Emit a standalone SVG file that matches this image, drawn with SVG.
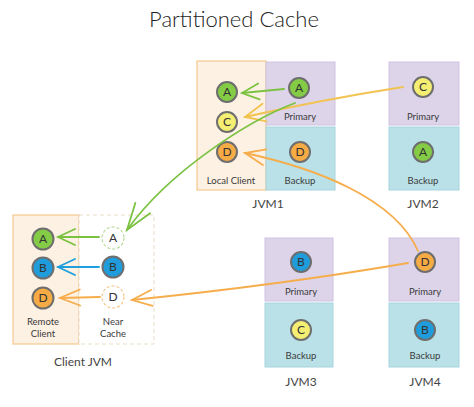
<svg xmlns="http://www.w3.org/2000/svg" width="474" height="407" viewBox="0 0 474 407">
<defs>
<style>
text{font-family:Lato,"Noto Sans","DejaVu Sans",sans-serif;fill:#3a3a3a;text-anchor:middle}
.title{font-size:22px;fill:#222;font-weight:300}
.lbl{font-size:9.5px}
.jvm{font-size:12px;fill:#444}
.let{font-size:12px;fill:#333}
.pri{fill:#ddd4ea;stroke:#cfc3e0;stroke-width:1}
.bak{fill:#bae1e7;stroke:#a6d5dd;stroke-width:1}
.loc{fill:#fdf1e3;stroke:#f6c88e;stroke-width:1.2}
.near{fill:#fff;stroke:#e9dcc6;stroke-width:1;stroke-dasharray:4 3}
.c{stroke:#6e6e6e;stroke-width:2}
.cg{fill:#84cc45}.cy{fill:#f4ef72}.co{fill:#f6ab45}.cb{fill:#1e9cdb}
.dash{fill:#fff;stroke-width:1.2;stroke-dasharray:3 2}
.ln{fill:none;stroke-width:1.8;stroke-linecap:round}
.g{stroke:#7cc242}.y{stroke:#f2c350}.o{stroke:#f6ad4c}.b{stroke:#1f9fdc}
</style>
<marker id="mg" markerUnits="userSpaceOnUse" orient="auto" overflow="visible" markerWidth="1" markerHeight="1"><path d="M-17,-8 L0,0 L-17,8" fill="none" stroke="#7cc242" stroke-width="1.8" stroke-linecap="round"/></marker>
<marker id="mgL" markerUnits="userSpaceOnUse" orient="auto" overflow="visible" markerWidth="1" markerHeight="1"><path d="M-27,-9 L0,0 L-27,9" fill="none" stroke="#7cc242" stroke-width="1.8" stroke-linecap="round"/></marker>
<marker id="my" markerUnits="userSpaceOnUse" orient="auto" overflow="visible" markerWidth="1" markerHeight="1"><path d="M-20,-9 L0,0 L-20,9" fill="none" stroke="#f2c350" stroke-width="1.8" stroke-linecap="round"/></marker>
<marker id="mo" markerUnits="userSpaceOnUse" orient="auto" overflow="visible" markerWidth="1" markerHeight="1"><path d="M-20,-8 L0,0 L-20,8" fill="none" stroke="#f6ad4c" stroke-width="1.8" stroke-linecap="round"/></marker>
<marker id="mb" markerUnits="userSpaceOnUse" orient="auto" overflow="visible" markerWidth="1" markerHeight="1"><path d="M-17,-8 L0,0 L-17,8" fill="none" stroke="#1f9fdc" stroke-width="1.8" stroke-linecap="round"/></marker>
</defs>
<rect width="474" height="407" fill="#fff"/>
<text class="title" x="234" y="27">Partitioned Cache</text>

<g id="jvm1">
<rect class="loc" x="197" y="61" width="69" height="129"/>
<rect class="pri" x="266" y="62" width="69" height="63"/>
<rect class="bak" x="266" y="127" width="69" height="63"/>
<circle class="c cg" cx="227" cy="92" r="10"/><text class="let" x="227" y="96">A</text>
<circle class="c cy" cx="227" cy="122" r="10"/><text class="let" x="227" y="126">C</text>
<circle class="c co" cx="227" cy="152" r="10"/><text class="let" x="227" y="156">D</text>
<text class="lbl" x="231" y="184">Local Client</text>
<circle class="c cg" cx="299" cy="88" r="10"/><text class="let" x="299" y="92">A</text>
<text class="lbl" x="300" y="120">Primary</text>
<circle class="c co" cx="300" cy="152" r="10"/><text class="let" x="300" y="156">D</text>
<text class="lbl" x="300" y="184">Backup</text>
<text class="jvm" x="268" y="208">JVM1</text>
</g>

<g id="jvm2">
<rect class="pri" x="389" y="62" width="70" height="63"/>
<rect class="bak" x="389" y="127" width="70" height="63"/>
<circle class="c cy" cx="423" cy="87" r="10"/><text class="let" x="423" y="91">C</text>
<text class="lbl" x="423" y="120">Primary</text>
<circle class="c cg" cx="423" cy="152" r="10"/><text class="let" x="423" y="156">A</text>
<text class="lbl" x="423" y="184">Backup</text>
<text class="jvm" x="423" y="208">JVM2</text>
</g>

<g id="jvm3">
<rect class="pri" x="265" y="238" width="68" height="63"/>
<rect class="bak" x="265" y="303" width="68" height="64"/>
<circle class="c cb" cx="301" cy="262" r="10"/><text class="let" x="301" y="266">B</text>
<text class="lbl" x="301" y="295">Primary</text>
<circle class="c cy" cx="301" cy="330" r="10"/><text class="let" x="301" y="334">C</text>
<text class="lbl" x="301" y="359">Backup</text>
<text class="jvm" x="301" y="386">JVM3</text>
</g>

<g id="jvm4">
<rect class="pri" x="389" y="238" width="70" height="63"/>
<rect class="bak" x="389" y="303" width="70" height="64"/>
<circle class="c co" cx="425" cy="262" r="10"/><text class="let" x="425" y="266">D</text>
<text class="lbl" x="425" y="295">Primary</text>
<circle class="c cb" cx="425" cy="330" r="10"/><text class="let" x="425" y="334">B</text>
<text class="lbl" x="425" y="359">Backup</text>
<text class="jvm" x="425" y="386">JVM4</text>
</g>

<g id="clientjvm">
<rect class="loc" x="13" y="215" width="66" height="129"/>
<rect class="near" x="79" y="215" width="75" height="129"/>
<circle class="c cg" cx="43" cy="239" r="10.5"/><text class="let" x="43" y="243">A</text>
<circle class="c cb" cx="43" cy="268" r="10.5"/><text class="let" x="43" y="272">B</text>
<circle class="c co" cx="43" cy="298" r="10.5"/><text class="let" x="43" y="302">D</text>
<text class="lbl" x="43" y="325">Remote</text>
<text class="lbl" x="43" y="337">Client</text>
<circle class="dash" stroke="#b6db98" cx="113" cy="238" r="11"/><text class="let" x="113" y="242">A</text>
<circle class="c cb" cx="113" cy="267" r="10.5"/><text class="let" x="113" y="271">B</text>
<circle class="dash" stroke="#f3c58a" cx="113" cy="297" r="11"/><text class="let" x="113" y="301">D</text>
<text class="lbl" x="113" y="325">Near</text>
<text class="lbl" x="113" y="337">Cache</text>
<text class="jvm" x="83" y="366">Client JVM</text>
</g>

<g id="connectors">
<path class="ln g" d="M284,89 L242,93" marker-end="url(#mg)"/>
<path class="ln y" d="M403,87 Q320,100 245,117" marker-end="url(#my)"/>
<path class="ln o" d="M418,251 C395,198 315,168 245,153" marker-end="url(#mo)"/>
<path class="ln g" d="M295,103 C250,120 170,170 127,230" marker-end="url(#mgL)"/>
<path class="ln o" d="M408,263 Q280,285 132,300" marker-end="url(#mo)"/>
<path class="ln g" d="M99,237 L58,237" marker-end="url(#mg)"/>
<path class="ln b" d="M99,267 L58,267" marker-end="url(#mb)"/>
<path class="ln o" d="M100,297 L60,298" marker-end="url(#mo)"/>
</g>
</svg>
